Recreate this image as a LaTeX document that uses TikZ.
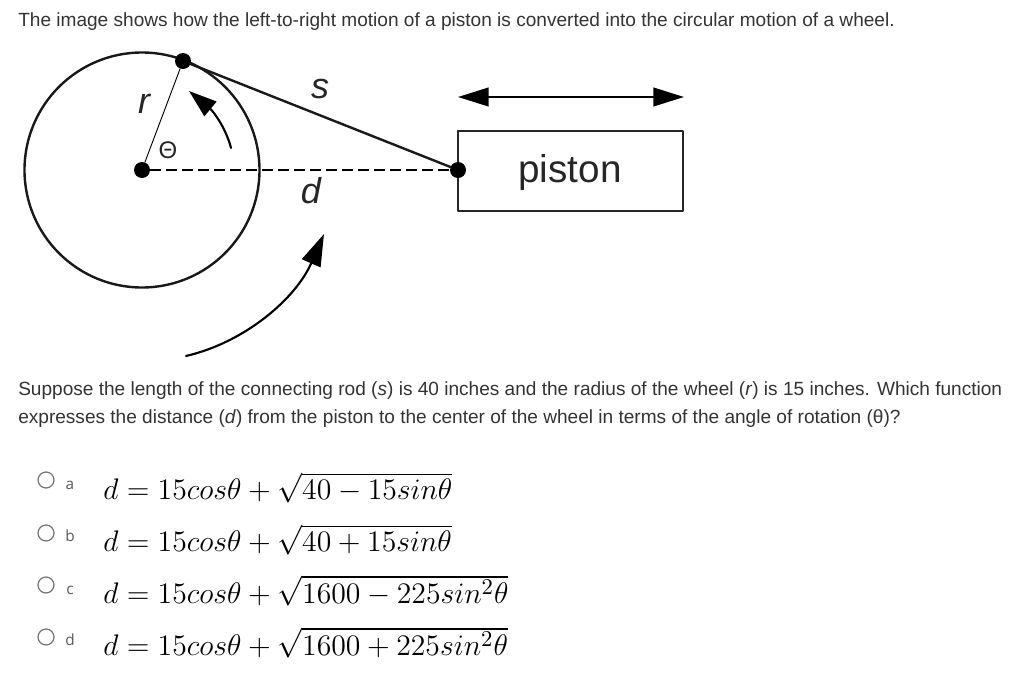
\documentclass[tikz,border=0pt]{standalone}
\usepackage{amsmath}
\usepackage{fontspec}
\setmainfont{Liberation Sans}
\newfontfamily\optfont{Open Sans}
\usetikzlibrary{arrows.meta}
\usetikzlibrary{positioning}
\tikzset{
	txt/.style={anchor=base west,inner sep=0pt,font=\fontsize{14.3pt}{16pt}\selectfont,text=black!80},
	lab/.style={inner sep=0pt,font=\fontsize{27pt}{30pt}\selectfont\itshape,text=black!85},
	pin/.style={circle,fill=black,inner sep=0pt,minimum size=12pt},
	radio/.style={circle,draw=black!55,line width=.9pt,inner sep=0pt,minimum size=12pt},
	opt/.style={anchor=base,inner sep=0pt,font=\optfont\fontsize{11.5pt}{13pt}\selectfont,text=black!65},
	eq/.style={anchor=base west,inner sep=0pt,scale=1.55,font=\fontsize{15.3pt}{18pt}\selectfont},
}
\begin{document}
\begin{tikzpicture}[line cap=round,line join=round,x=0.75pt,y=-0.75pt]
	\useasboundingbox (0,0) rectangle (1015,693);
	\node[txt] at (18,26) {The image shows how the left-to-right motion of a piston is converted into the circular motion of a wheel.};
	%wheel
	\draw[line width=1.8pt,color=black!90] (142,170) circle (117.5);
	\node[pin] (center) at (142,170) {};
	\node[pin] (crank) at (183,61) {};
	\node[draw=black!85,line width=1.8pt,inner sep=0pt,minimum width=168.75pt,minimum height=60pt] (piston) at (570.5,171) {};
	\node[pin] (pistonpin) at (458,170) {};
	\node[inner sep=0pt,font=\fontsize{29pt}{32pt}\selectfont,text=black!85] at (570,172) {piston};
	\draw[line width=.7pt] (center) -- (crank);
	\draw[line width=1.8pt,color=black!90] (crank) -- (pistonpin);
	\draw[line width=1pt,dash pattern=on 8pt off 4pt,line cap=butt] (center) -- (pistonpin);
	%labels
	\node[lab] (r) at (144,104) {r};
	\node[lab] (s) at (320,89) {s};
	\node[lab] (d) at (311,191) {d};
	\node[inner sep=0pt,font=\fontsize{18pt}{20pt}\selectfont,text=black!85] (theta) at (168,150) {Θ};
	%arrows
	\coordinate (inA) at (231,148);
	\coordinate (inB) at (189,91);
	\coordinate (outA) at (186,356);
	\coordinate (outB) at (324,234);
	\coordinate (moveA) at (458,97);
	\coordinate (moveB) at (684,97);
	\draw[-{Triangle[length=21pt,width=14pt]},line width=1.6pt] (inA) .. controls (226,128) and (213,111) .. (inB);
	\draw[-{Triangle[length=24pt,width=15pt]},line width=1.6pt] (outA) .. controls (246,342) and (296,298) .. (outB);
	\draw[{Triangle[length=23pt,width=14pt]}-{Triangle[length=23pt,width=14pt]},line width=1.6pt] (moveA) -- (moveB);
	%question
	\node[txt] at (18,395) {Suppose the length of the connecting rod (\textit{s}) is 40 inches and the radius of the wheel (\textit{r}) is 15 inches. Which function};
	\node[txt] at (18,423) {expresses the distance (\textit{d}) from the piston to the center of the wheel in terms of the angle of rotation (θ)?};
	%choices
	\node[radio] (ra) at (46,480) {};
	\node[radio] (rb) at (46,533) {};
	\node[radio] (rc) at (46,585) {};
	\node[radio] (rd) at (46,637) {};
	\node[opt] at (70,489) {a};
	\node[opt] at (70,541) {b};
	\node[opt] at (70,594) {c};
	\node[opt] at (70,645) {d};
	\node[eq] at (103,499) {$d=15cos\theta+\sqrt{40-15sin\theta}$};
	\node[eq] at (103,551) {$d=15cos\theta+\sqrt{40+15sin\theta}$};
	\node[eq] at (103,603) {$d=15cos\theta+\sqrt{1600-225sin^2\theta}$};
	\node[eq] at (103,655) {$d=15cos\theta+\sqrt{1600+225sin^2\theta}$};
\end{tikzpicture}
\end{document}
